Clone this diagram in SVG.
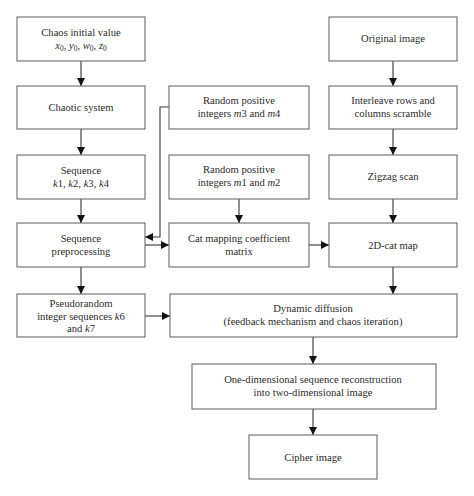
<svg xmlns="http://www.w3.org/2000/svg" width="474" height="496" viewBox="0 0 474 496">
<style>
rect{fill:#fff;stroke:#6b6b6b;stroke-width:1.1}
text{font-family:"Liberation Serif","Times New Roman",serif;font-size:10.6px;fill:#2b2b2b;text-anchor:middle}
.i{font-style:italic}
.s{font-size:7.5px}
.c{fill:none;stroke:#333;stroke-width:1.1}
</style>
<defs>
<marker id="a" viewBox="0 0 10 10" refX="10" refY="5" markerWidth="8" markerHeight="8" markerUnits="userSpaceOnUse" orient="auto">
<path d="M0,0L10,5L0,10z" fill="#111"/>
</marker>
</defs>
<g id="connectors">
<path class="c" d="M81,61V86" marker-end="url(#a)"/>
<path class="c" d="M81,129V155" marker-end="url(#a)"/>
<path class="c" d="M81,199V223" marker-end="url(#a)"/>
<path class="c" d="M81,267V294" marker-end="url(#a)"/>
<path class="c" d="M169,107H160V237H145" marker-end="url(#a)"/>
<path class="c" d="M239,199V223" marker-end="url(#a)"/>
<path class="c" d="M145,245H169" marker-end="url(#a)"/>
<path class="c" d="M309,245H329" marker-end="url(#a)"/>
<path class="c" d="M393,61V86" marker-end="url(#a)"/>
<path class="c" d="M393,129V155" marker-end="url(#a)"/>
<path class="c" d="M393,199V223" marker-end="url(#a)"/>
<path class="c" d="M393,267V294" marker-end="url(#a)"/>
<path class="c" d="M145,316H170" marker-end="url(#a)"/>
<path class="c" d="M313,337V364" marker-end="url(#a)"/>
<path class="c" d="M313,409V435" marker-end="url(#a)"/>
</g>
<g id="chaos-init">
<rect x="17" y="17" width="128" height="44"/>
<text x="81" y="36">Chaos initial value</text>
<text x="81" y="49"><tspan class="i">x</tspan><tspan class="s" dy="2">0</tspan><tspan dy="-2">, </tspan><tspan class="i">y</tspan><tspan class="s" dy="2">0</tspan><tspan dy="-2">, </tspan><tspan class="i">w</tspan><tspan class="s" dy="2">0</tspan><tspan dy="-2">, </tspan><tspan class="i">z</tspan><tspan class="s" dy="2">0</tspan></text>
</g>
<g id="chaotic-system">
<rect x="17" y="86" width="128" height="43"/>
<text x="81" y="111">Chaotic system</text>
</g>
<g id="sequence">
<rect x="17" y="155" width="128" height="44"/>
<text x="81" y="174">Sequence</text>
<text x="81" y="187"><tspan class="i">k</tspan>1, <tspan class="i">k</tspan>2, <tspan class="i">k</tspan>3, <tspan class="i">k</tspan>4</text>
</g>
<g id="seq-pre">
<rect x="17" y="223" width="128" height="44"/>
<text x="81" y="242">Sequence</text>
<text x="81" y="255">preprocessing</text>
</g>
<g id="pseudorandom">
<rect x="17" y="294" width="128" height="43"/>
<text x="81" y="307">Pseudorandom</text>
<text x="81" y="320">integer sequences <tspan class="i">k</tspan>6</text>
<text x="81" y="332">and <tspan class="i">k</tspan>7</text>
</g>
<g id="rand-m3m4">
<rect x="169" y="86" width="140" height="43"/>
<text x="239" y="104">Random positive</text>
<text x="239" y="117">integers <tspan class="i">m</tspan>3 and <tspan class="i">m</tspan>4</text>
</g>
<g id="rand-m1m2">
<rect x="169" y="155" width="140" height="44"/>
<text x="239" y="173">Random positive</text>
<text x="239" y="186">integers <tspan class="i">m</tspan>1 and <tspan class="i">m</tspan>2</text>
</g>
<g id="cat-matrix">
<rect x="169" y="223" width="140" height="44"/>
<text x="239" y="242">Cat mapping coefficient</text>
<text x="239" y="255">matrix</text>
</g>
<g id="original">
<rect x="329" y="17" width="128" height="44"/>
<text x="393" y="42">Original image</text>
</g>
<g id="interleave">
<rect x="329" y="86" width="128" height="43"/>
<text x="393" y="104">Interleave rows and</text>
<text x="393" y="117">columns scramble</text>
</g>
<g id="zigzag">
<rect x="329" y="155" width="128" height="44"/>
<text x="393" y="180">Zigzag scan</text>
</g>
<g id="cat2d">
<rect x="329" y="223" width="128" height="44"/>
<text x="393" y="249">2D-cat map</text>
</g>
<g id="diffusion">
<rect x="170" y="294" width="287" height="43"/>
<text x="313" y="312">Dynamic diffusion</text>
<text x="313" y="325">(feedback mechanism and chaos iteration)</text>
</g>
<g id="reconstruct">
<rect x="192" y="364" width="244" height="45"/>
<text x="313" y="383">One-dimensional sequence reconstruction</text>
<text x="313" y="396">into two-dimensional image</text>
</g>
<g id="cipher">
<rect x="249" y="435" width="128" height="44"/>
<text x="313" y="461">Cipher image</text>
</g>
</svg>
